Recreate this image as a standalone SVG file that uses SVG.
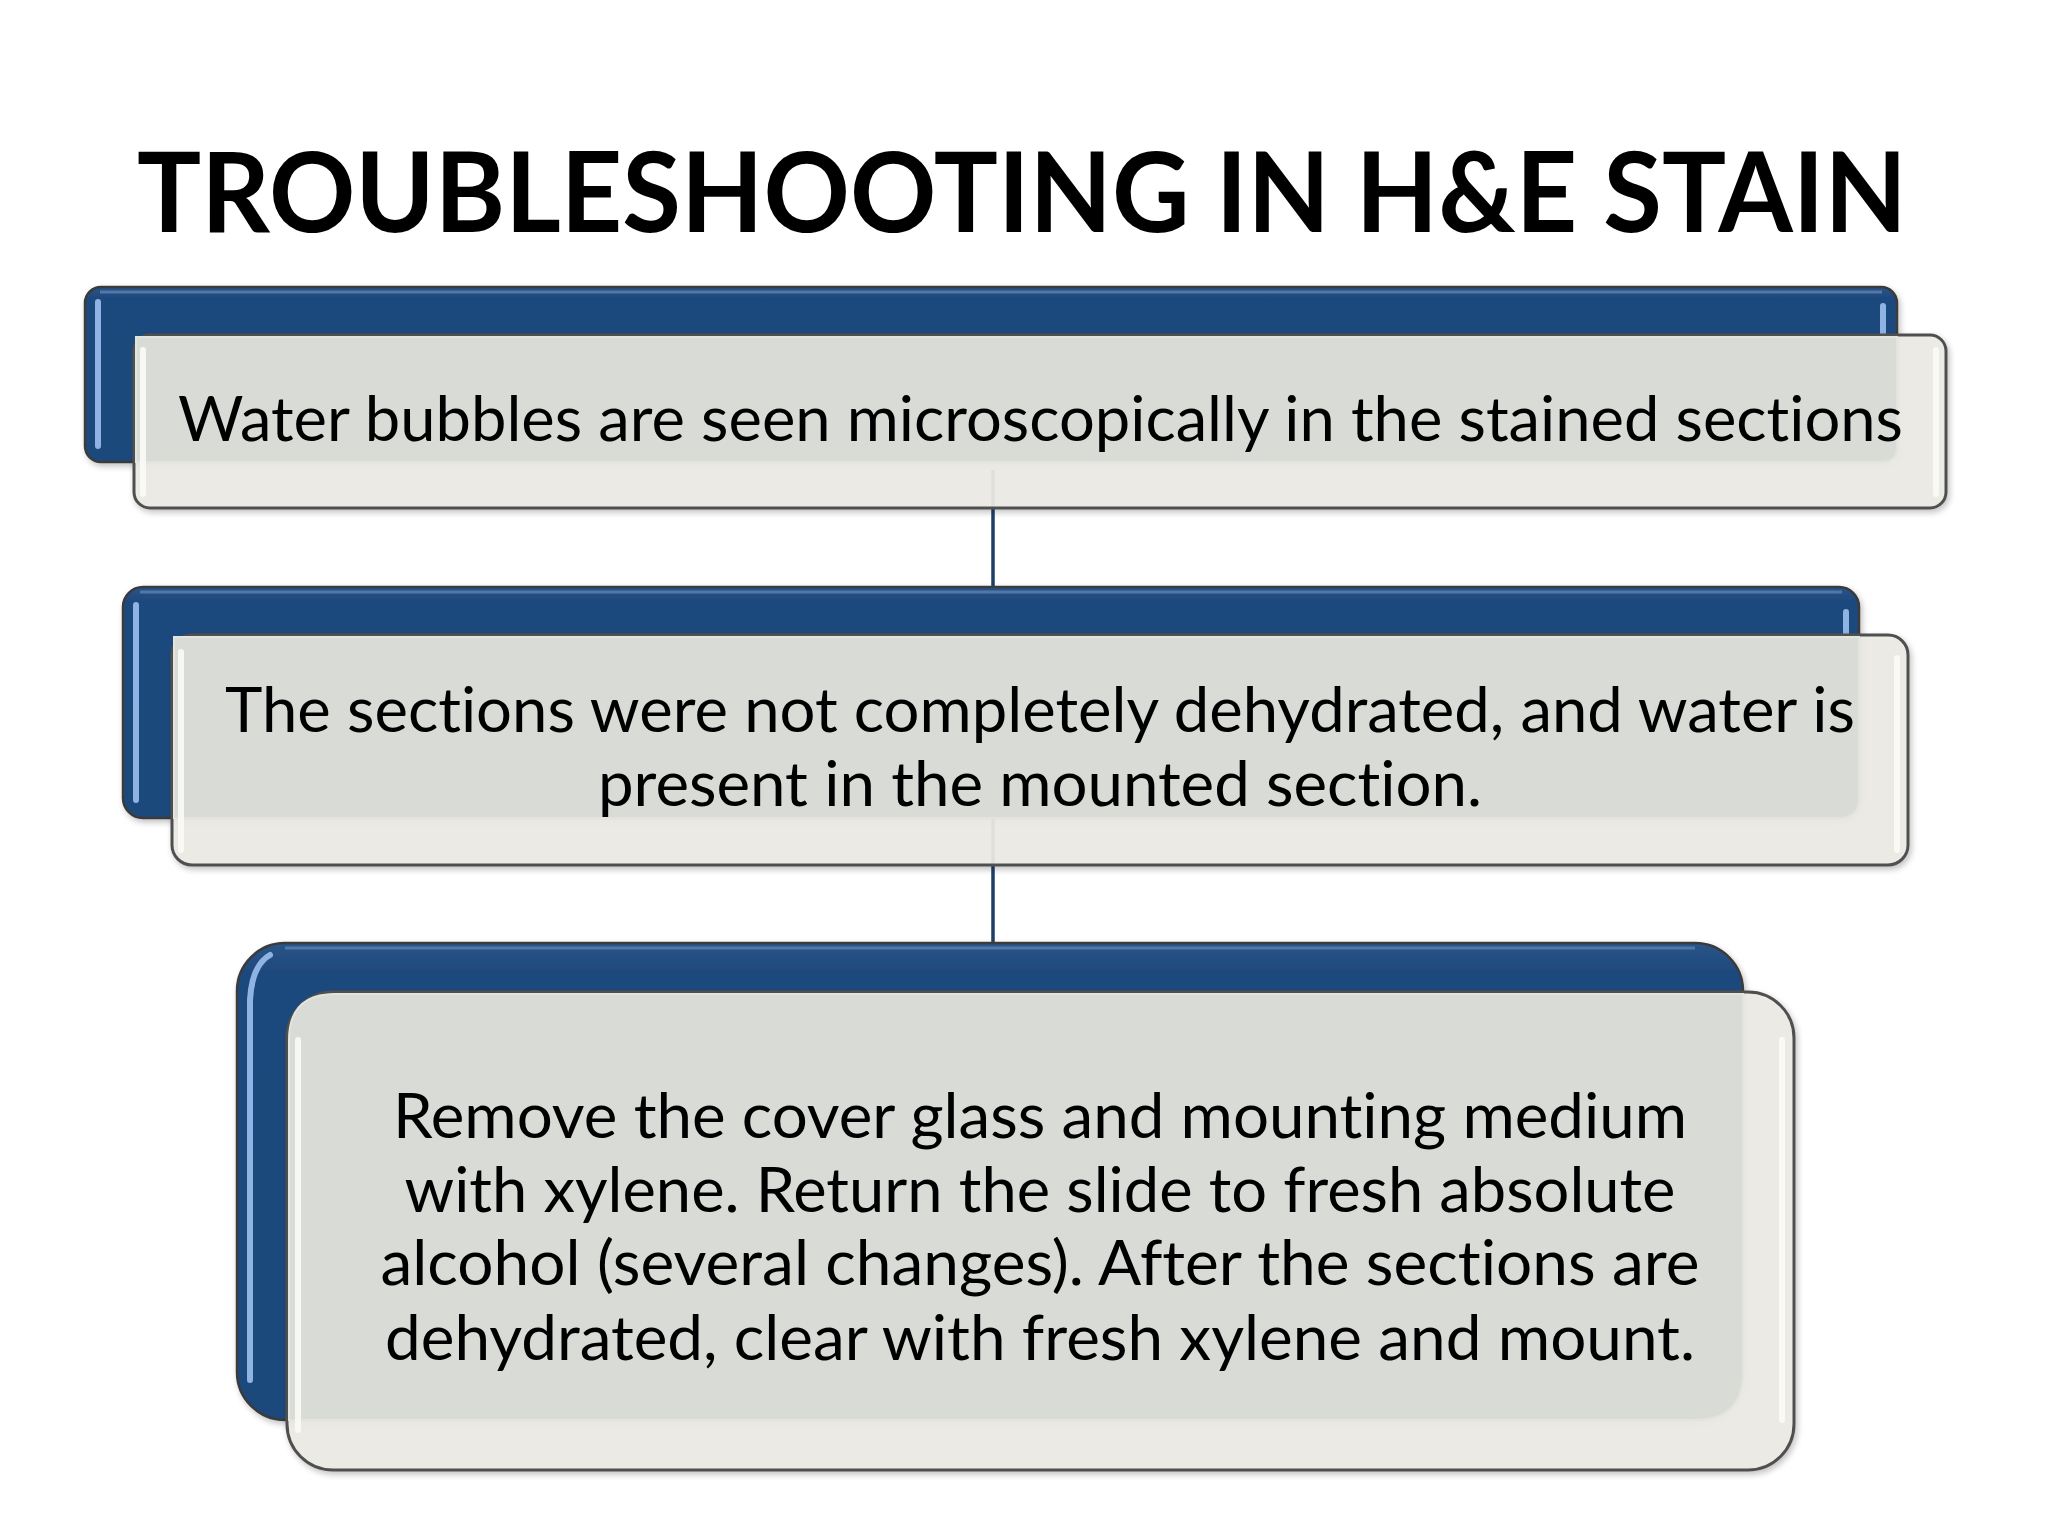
<svg xmlns="http://www.w3.org/2000/svg" width="2048" height="1536" viewBox="0 0 2048 1536">
<defs>
<style>
.title{font-family:Lato,"Open Sans","Liberation Sans",sans-serif;font-weight:bold;font-size:111px;fill:#000;font-variant-ligatures:none}
.txt{font-family:Lato,"Open Sans","Liberation Sans",sans-serif;font-size:61px;fill:#000;font-variant-ligatures:none}
.blue{fill:url(#gBlue);stroke:#3a3a3a;stroke-width:2.5}
.front{fill:#ecebe4;fill-opacity:0.93;stroke:#505050;stroke-width:3}
.inner{fill:#d9dbd6;stroke:#e4e4de;stroke-width:2}
.hlL{stroke:#8fb4e3;stroke-width:6;stroke-linecap:round}
.hlW{stroke:#fbfbf8;stroke-width:6;stroke-linecap:round;opacity:0.9}
.topband{fill:none;stroke:#5f82b0;stroke-width:3;opacity:0.8}
.conn{stroke:#1f3f66;stroke-width:3.5;fill:none}
</style>
<linearGradient id="gBlue" x1="0" y1="0" x2="0" y2="1">
<stop offset="0" stop-color="#2a5589"/>
<stop offset="0.06" stop-color="#1f497d"/>
<stop offset="1" stop-color="#1f487b"/>
</linearGradient>
<filter id="sh" x="-5%" y="-5%" width="110%" height="115%">
<feGaussianBlur in="SourceAlpha" stdDeviation="3"/>
<feOffset dx="2" dy="3" result="b"/>
<feComponentTransfer><feFuncA type="linear" slope="0.25"/></feComponentTransfer>
<feMerge><feMergeNode/><feMergeNode in="SourceGraphic"/></feMerge>
</filter>
</defs>
<rect width="2048" height="1536" fill="#ffffff"/>
<text class="title" x="1022" y="232" text-anchor="middle" textLength="1770" lengthAdjust="spacingAndGlyphs">TROUBLESHOOTING IN H&amp;E STAIN</text>

<g id="connectors">
<line class="conn" x1="993" y1="470" x2="993" y2="590"/>
<line class="conn" x1="993" y1="800" x2="993" y2="946"/>
</g>

<g id="node1">
<rect class="blue" x="85" y="287" width="1812" height="175" rx="16" filter="url(#sh)"/>
<path class="topband" d="M100 292 H1882"/>
<line class="hlL" x1="98" y1="302" x2="98" y2="446"/>
<line class="hlL" x1="1883" y1="306" x2="1883" y2="340"/>
<rect class="front" x="134" y="335" width="1812" height="173" rx="16" filter="url(#sh)"/>
<path class="inner" d="M136 337 H1897 V447 Q1897 462 1882 462 H136 Z"/>
<line class="hlW" x1="143" y1="350" x2="143" y2="494"/>
<line class="hlW" x1="1936" y1="350" x2="1936" y2="494"/>
<text class="txt" x="178" y="441" textLength="1725" lengthAdjust="spacingAndGlyphs">Water bubbles are seen microscopically in the stained sections</text>
</g>

<g id="node2">
<rect class="blue" x="123" y="587" width="1736" height="231" rx="20" filter="url(#sh)"/>
<path class="topband" d="M140 592 H1842"/>
<line class="hlL" x1="136" y1="605" x2="136" y2="800"/>
<line class="hlL" x1="1846" y1="612" x2="1846" y2="640"/>
<rect class="front" x="172" y="635" width="1736" height="230" rx="20" filter="url(#sh)"/>
<path class="inner" d="M174 637 H1859 V798 Q1859 818 1839 818 H174 Z"/>
<line class="hlW" x1="181" y1="652" x2="181" y2="850"/>
<line class="hlW" x1="1897" y1="658" x2="1897" y2="850"/>
<text class="txt" x="1040" y="732" text-anchor="middle" textLength="1630" lengthAdjust="spacingAndGlyphs">The sections were not completely dehydrated, and water is</text>
<text class="txt" x="1040" y="806" text-anchor="middle" textLength="884" lengthAdjust="spacingAndGlyphs">present in the mounted section.</text>
</g>

<g id="node3">
<rect class="blue" x="237" y="943" width="1506" height="477" rx="48" filter="url(#sh)"/>
<path class="topband" d="M285 948 H1695"/>
<path class="hlL" d="M250 1000 Q252 965 270 955" fill="none"/>
<line class="hlL" x1="250" y1="1000" x2="250" y2="1380"/>
<rect class="front" x="287" y="992" width="1507" height="478" rx="46" filter="url(#sh)"/>
<path class="inner" d="M289 1040 Q289 994 335 994 H1743 V1372 Q1743 1420 1695 1420 H289 Z"/>
<line class="hlW" x1="298" y1="1040" x2="298" y2="1430"/>
<line class="hlW" x1="1782" y1="1040" x2="1782" y2="1420"/>
<text class="txt" x="1040" y="1138" text-anchor="middle" textLength="1294" lengthAdjust="spacingAndGlyphs">Remove the cover glass and mounting medium</text>
<text class="txt" x="1040" y="1212" text-anchor="middle" textLength="1271" lengthAdjust="spacingAndGlyphs">with xylene. Return the slide to fresh absolute</text>
<text class="txt" x="1040" y="1285" text-anchor="middle" textLength="1319" lengthAdjust="spacingAndGlyphs">alcohol (several changes). After the sections are</text>
<text class="txt" x="1040" y="1360" text-anchor="middle" textLength="1310" lengthAdjust="spacingAndGlyphs">dehydrated, clear with fresh xylene and mount.</text>
</g>
</svg>
